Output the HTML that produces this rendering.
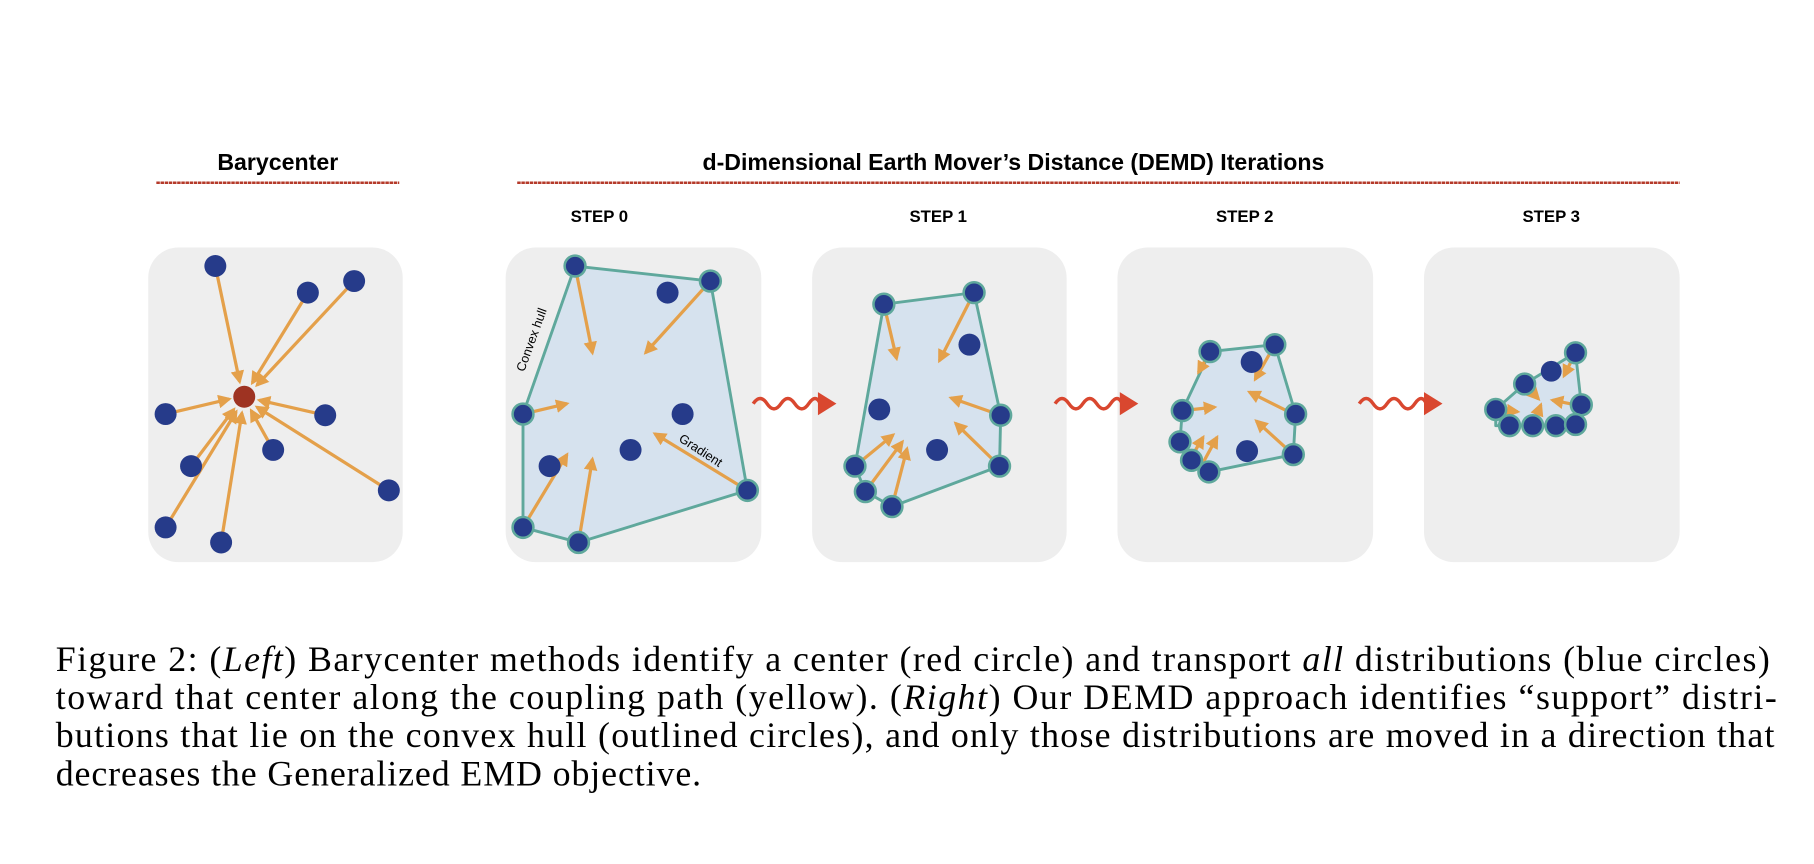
<!DOCTYPE html>
<html><head><meta charset="utf-8"><style>
html,body{margin:0;padding:0;background:#fff;width:1814px;height:864px;overflow:hidden}
svg{display:block}
</style></head><body>
<svg width="1814" height="864" viewBox="0 0 1568 747" xmlns="http://www.w3.org/2000/svg">
<defs>
<marker id="ah" viewBox="0 0 10 10" refX="8" refY="5" markerWidth="4.2" markerHeight="4.2" orient="auto" markerUnits="strokeWidth">
<path d="M0,0 L10,5 L0,10 z" fill="#e4a04a"/></marker>
</defs>
<g font-family="Liberation Sans, sans-serif" font-weight="bold" text-anchor="middle" fill="#000">
<text x="240" y="147" font-size="20">Barycenter</text>
<text x="876" y="147" font-size="20">d-Dimensional Earth Mover’s Distance (DEMD) Iterations</text>
<text x="518" y="192" font-size="14.5">STEP 0</text>
<text x="811" y="192" font-size="14.5">STEP 1</text>
<text x="1076" y="192" font-size="14.5">STEP 2</text>
<text x="1341" y="192" font-size="14.5">STEP 3</text>
</g>
<g stroke="#b53a2a" stroke-width="2.2" stroke-dasharray="3 0.6">
<line x1="135" y1="158" x2="345" y2="158"/>
<line x1="447" y1="158" x2="1452" y2="158"/>
</g>
<g fill="#eeeeee">
<rect x="128" y="214" width="220" height="272" rx="26"/>
<rect x="437" y="214" width="221" height="272" rx="26"/>
<rect x="702" y="214" width="220" height="272" rx="26"/>
<rect x="966" y="214" width="221" height="272" rx="26"/>
<rect x="1231" y="214" width="221" height="272" rx="26"/>
</g>
<g fill="none" stroke="#d9472f" stroke-width="3">
<path d="M651,349 q6,-9 12,0 t12,0 t12,0 t12,0 t10,0"/>
<path d="M912,349 q6,-9 12,0 t12,0 t12,0 t12,0 t10,0"/>
<path d="M1175,349 q6,-9 12,0 t12,0 t12,0 t12,0 t10,0"/>
</g>
<g fill="#d9472f">
<path d="M707,339 L723,349 L707,359 z"/>
<path d="M968,339 L984,349 L968,359 z"/>
<path d="M1231,339 L1247,349 L1231,359 z"/>
</g>
<g stroke="#e4a04a" stroke-width="2.8" fill="none" marker-end="url(#ah)">
<line x1="186" y1="230" x2="207" y2="330"/>
<line x1="266" y1="253" x2="218" y2="331"/>
<line x1="306" y1="243" x2="222" y2="333"/>
<line x1="143" y1="358" x2="198" y2="345"/>
<line x1="281" y1="359" x2="224" y2="346"/>
<line x1="236" y1="389" x2="217" y2="355"/>
<line x1="165" y1="403" x2="202" y2="354"/>
<line x1="336" y1="424" x2="222" y2="352"/>
<line x1="143" y1="456" x2="204" y2="356"/>
<line x1="191" y1="469" x2="209" y2="357"/>
</g>
<circle cx="211" cy="343" r="9.5" fill="#9e3322"/>
<g fill="#263b8a">
<circle cx="186" cy="230" r="9.5"/><circle cx="266" cy="253" r="9.5"/><circle cx="306" cy="243" r="9.5"/>
<circle cx="143" cy="358" r="9.5"/><circle cx="281" cy="359" r="9.5"/><circle cx="236" cy="389" r="9.5"/>
<circle cx="165" cy="403" r="9.5"/><circle cx="336" cy="424" r="9.5"/><circle cx="143" cy="456" r="9.5"/>
<circle cx="191" cy="469" r="9.5"/>
</g>
<g fill="#d6e2ee" stroke="#5fa89c" stroke-width="2.5" stroke-linejoin="round">
<polygon points="497,230 614,243 646,424 500,469 452,456 452,358"/>
<polygon points="764,263 842,253 865,359 864,403 771,438 748,425 739,403"/>
<polygon points="1046,304 1102,298 1120,358 1118,393 1045,408 1028,398 1020,382 1022,355"/>
<polygon points="1318,332 1362,305 1367,350 1362,368 1293,368 1293,354"/>
</g>
<g font-family="Liberation Sans, sans-serif" font-size="11" fill="#000">
<text transform="translate(453,322) rotate(-70)">Convex hull</text>
<text transform="translate(586,381) rotate(33)">Gradient</text>
</g>
<g stroke="#e4a04a" stroke-width="2.8" fill="none" marker-end="url(#ah)">
<line x1="497" y1="230" x2="512" y2="305"/>
<line x1="614" y1="243" x2="558" y2="305"/>
<line x1="452" y1="358" x2="490" y2="349"/>
<line x1="646" y1="424" x2="566" y2="375"/>
<line x1="452" y1="456" x2="490" y2="393"/>
<line x1="500" y1="469" x2="512" y2="397"/>
<line x1="764" y1="263" x2="775" y2="310"/>
<line x1="842" y1="253" x2="812" y2="312"/>
<line x1="865" y1="359" x2="822" y2="344"/>
<line x1="864" y1="403" x2="826" y2="366"/>
<line x1="739" y1="403" x2="772" y2="376"/>
<line x1="748" y1="425" x2="780" y2="382"/>
<line x1="771" y1="438" x2="784" y2="388"/>
<line x1="1102" y1="298" x2="1085" y2="328"/>
<line x1="1118" y1="358" x2="1080" y2="339"/>
<line x1="1118" y1="393" x2="1086" y2="364"/>
<line x1="1022" y1="355" x2="1050" y2="352"/>
<line x1="1046" y1="304" x2="1036" y2="322"/>
<line x1="1030" y1="395" x2="1040" y2="378"/>
<line x1="1040" y1="400" x2="1052" y2="378"/>
<line x1="1362" y1="305" x2="1352" y2="325"/>
<line x1="1362" y1="350" x2="1342" y2="346"/>
<line x1="1293" y1="354" x2="1312" y2="356"/>
<line x1="1318" y1="332" x2="1330" y2="345"/>
<line x1="1325" y1="368" x2="1332" y2="350"/>
</g>
<g fill="#263b8a" stroke="#5fa89c" stroke-width="2.2">
<circle cx="497" cy="230" r="9"/><circle cx="614" cy="243" r="9"/><circle cx="646" cy="424" r="9"/>
<circle cx="500" cy="469" r="9"/><circle cx="452" cy="456" r="9"/><circle cx="452" cy="358" r="9"/>
<circle cx="764" cy="263" r="9"/><circle cx="842" cy="253" r="9"/><circle cx="865" cy="359" r="9"/>
<circle cx="864" cy="403" r="9"/><circle cx="771" cy="438" r="9"/><circle cx="748" cy="425" r="9"/><circle cx="739" cy="403" r="9"/>
<circle cx="1046" cy="304" r="9"/><circle cx="1102" cy="298" r="9"/><circle cx="1120" cy="358" r="9"/>
<circle cx="1118" cy="393" r="9"/><circle cx="1045" cy="408" r="9"/><circle cx="1030" cy="398" r="9"/>
<circle cx="1020" cy="382" r="9"/><circle cx="1022" cy="355" r="9"/>
<circle cx="1362" cy="305" r="9"/><circle cx="1318" cy="332" r="9"/><circle cx="1367" cy="350" r="9"/>
<circle cx="1293" cy="354" r="9"/><circle cx="1305" cy="368" r="9"/><circle cx="1325" cy="368" r="9"/>
<circle cx="1345" cy="368" r="9"/><circle cx="1362" cy="367" r="9"/>
</g>
<g fill="#263b8a">
<circle cx="577" cy="253" r="9.5"/><circle cx="590" cy="358" r="9.5"/><circle cx="545" cy="389" r="9.5"/><circle cx="475" cy="403" r="9.5"/>
<circle cx="838" cy="298" r="9.5"/><circle cx="760" cy="354" r="9.5"/><circle cx="810" cy="389" r="9.5"/>
<circle cx="1082" cy="313" r="9.5"/><circle cx="1078" cy="390" r="9.5"/>
<circle cx="1341" cy="321" r="9"/>
</g>
<g font-family="Liberation Serif, serif" font-size="31" fill="#000">
<text x="48" y="580" textLength="1482" lengthAdjust="spacing">Figure 2: (<tspan font-style="italic">Left</tspan>) Barycenter methods identify a center (red circle) and transport <tspan font-style="italic">all</tspan> distributions (blue circles)</text>
<text x="48" y="613" textLength="1488" lengthAdjust="spacing">toward that center along the coupling path (yellow). (<tspan font-style="italic">Right</tspan>) Our DEMD approach identifies “support” distri-</text>
<text x="48" y="646" textLength="1486" lengthAdjust="spacing">butions that lie on the convex hull (outlined circles), and only those distributions are moved in a direction that</text>
<text x="48" y="679" textLength="558" lengthAdjust="spacing">decreases the Generalized EMD objective.</text>
</g>
</svg>
</body></html>
